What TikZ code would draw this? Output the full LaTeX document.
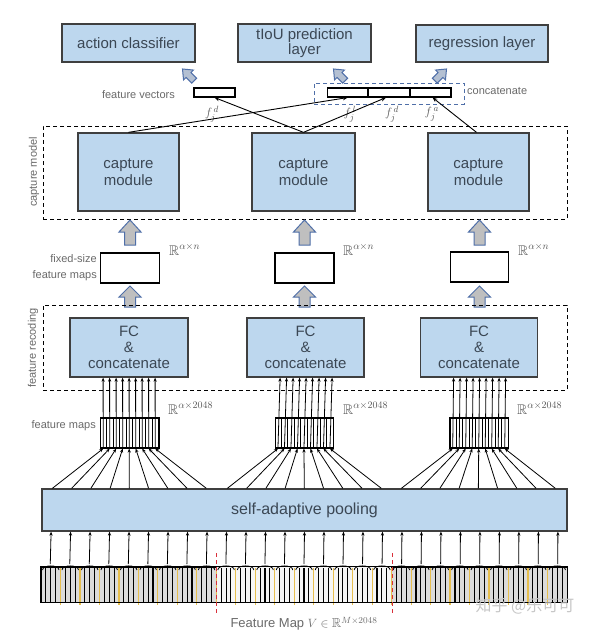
\documentclass[tikz,border=0pt]{standalone}
\usepackage{amsmath,amssymb}
\usepackage{fontspec}
\setmainfont{Liberation Sans}
\newfontfamily\cjk{Noto Sans CJK SC}
\usetikzlibrary{arrows.meta,calc}
\definecolor{boxblue}{HTML}{BDD7EE}
\definecolor{boxedge}{HTML}{3F3F3F}
\definecolor{boxtxt}{HTML}{3B4754}
\definecolor{lblgray}{HTML}{6A6A6A}
\definecolor{mgray}{HTML}{555555}
\definecolor{arrblue}{HTML}{4F6FA8}
\definecolor{arrgray}{HTML}{BFBFBF}
\definecolor{tiltfill}{HTML}{B4C0D2}
\definecolor{yel}{HTML}{E6BE4E}
\definecolor{redd}{HTML}{D9303A}
\newcommand\blockup[4]{%
  \draw[blockarrow] (#1,#2) -- ++(11,#3) -- ++(-5.5,0) -- ++(0,#4) -- ++(-11,0) -- ++(0,-#4) -- ++(-5.5,0) -- cycle;}
\begin{document}
\begin{tikzpicture}[x=1pt,y=-1pt,
  bluebox/.style={draw=boxedge, line width=1.3pt, fill=boxblue, text=boxtxt, align=center, inner sep=0pt, font=\fontsize{15}{17}\selectfont},
  whitebox/.style={draw=black, line width=1.1pt, fill=white, inner sep=0pt},
  dashbox/.style={draw=black, dash pattern=on 4pt off 3pt, line width=1pt, inner sep=0pt},
  lbl/.style={text=lblgray, font=\fontsize{11}{16}\selectfont, align=right, inner sep=0pt},
  mlbl/.style={text=mgray, font=\fontsize{14}{16}\selectfont, inner sep=0pt},
  flbl/.style={text=mgray, font=\fontsize{13}{15}\selectfont, inner sep=0pt},
  conn/.style={-{Stealth[length=5pt,width=4pt]}, line width=0.9pt},
  thin/.style={-{Stealth[length=4pt,width=3.2pt]}, line width=0.8pt},
  blockarrow/.style={draw=arrblue, fill=arrgray, line width=1pt, line join=miter},
  tilt/.pic={\draw[draw=arrblue, fill=tiltfill, line width=1pt] (-3.5,8) -- (-3.5,0) -- (-7,0) -- (0,-8.5) -- (7,0) -- (3.5,0) -- (3.5,8) -- cycle;}
]
\fill[white] (0,0) rectangle (595,634);
\useasboundingbox (0,0) rectangle (595,634);

% top boxes
\node[bluebox, minimum width=133, minimum height=38] (ac) at (128.5,43) {action classifier};
\node[bluebox, minimum width=133, minimum height=38] (tiou) at (304.5,43) {tIoU prediction\\[-2pt]layer};
\node[bluebox, minimum width=132, minimum height=37] (reg) at (482,43.5) {regression layer};

\pic[rotate=45] at (188.5,75) {tilt};
\pic[rotate=45] at (339.5,75) {tilt};
\pic[rotate=-45] at (440.5,75) {tilt};

% feature vectors
\node[draw=arrblue, dash pattern=on 4pt off 3pt, line width=1pt, minimum width=150, minimum height=21, inner sep=0] (catbox) at (389,93.5) {};
\node[whitebox, minimum width=41, minimum height=9] (fv) at (214.5,92.5) {};
\node[whitebox, minimum width=40.5, minimum height=9] (c1) at (347.75,92.5) {};
\node[whitebox, minimum width=42, minimum height=9] (c2) at (389,92.5) {};
\node[whitebox, minimum width=41, minimum height=9] (c3) at (430.5,92.5) {};
\node[lbl, anchor=east] (lfv) at (175,95) {feature vectors};
\node[lbl, anchor=west] (lcat) at (467,91) {concatenate};

\node[flbl] (f1) at (212,114) {$f_j^{\,d}$};
\node[flbl] (f2) at (350,114) {$f_j^{\,l}$};
\node[flbl] (f3) at (392,114) {$f_j^{\,d}$};
\node[flbl] (f4) at (432,114) {$f_j^{\,a}$};

% capture model
\node[dashbox, minimum width=524, minimum height=93] (capbox) at (305,172.5) {};
\node[lbl, rotate=90] (lcap) at (34,172) {capture model};
\node[bluebox, minimum width=101, minimum height=78] (cm1) at (128.5,172) {capture\\module};
\node[bluebox, minimum width=103, minimum height=78] (cm2) at (303.5,172) {capture\\module};
\node[bluebox, minimum width=101, minimum height=78] (cm3) at (478.5,172) {capture\\module};

\draw[conn] (cm1.north) -- (c1.south);
\draw[conn] (cm2.north) -- (fv.south);
\draw[conn] (cm2.north) -- ($(c2.south)+(-3,0)$);
\draw[conn] ($(cm3.north)+(-2,0)$) -- ($(c3.south)+(2,0)$);

% fixed-size
\node[whitebox, minimum width=59, minimum height=30] (fs1) at (130,268) {};
\node[whitebox, minimum width=59, minimum height=30] (fs2) at (304.5,268) {};
\node[whitebox, minimum width=58, minimum height=30] (fs3) at (479.5,267) {};
\node[lbl, anchor=east] (lfs) at (97,268) {fixed-size\\feature maps};
\node[mlbl, anchor=base west] (r1) at (169,255) {$\mathbb{R}^{\alpha\times n}$};
\node[mlbl, anchor=base west] (r2) at (343,255) {$\mathbb{R}^{\alpha\times n}$};
\node[mlbl, anchor=base west] (r3) at (518,255) {$\mathbb{R}^{\alpha\times n}$};

\blockup{130}{220}{12}{13}
\blockup{304.5}{220}{12}{13}
\blockup{479.5}{220}{12}{13}
\blockup{130}{286}{11}{10}
\blockup{304.5}{286}{11}{10}
\blockup{479.5}{286}{11}{10}

% feature recoding
\node[dashbox, minimum width=524, minimum height=85] (recbox) at (305,347.5) {};
\node[lbl, rotate=90] (lrec) at (33,348) {feature recoding};
\node[bluebox, minimum width=118, minimum height=59] (fc1) at (129,347.5) {FC\\[-1pt]\&\\[-1pt]concatenate};
\node[bluebox, minimum width=117, minimum height=59] (fc2) at (305.5,347.5) {FC\\[-1pt]\&\\[-1pt]concatenate};
\node[bluebox, minimum width=117, minimum height=59] (fc3) at (479,347.5) {FC\\[-1pt]\&\\[-1pt]concatenate};

% feature maps
\node[whitebox, minimum width=58.5, minimum height=30] (fm1) at (129.75,433) {};
\node[whitebox, minimum width=58.5, minimum height=30] (fm2) at (304.5,433) {};
\node[whitebox, minimum width=58.5, minimum height=30] (fm3) at (479.25,433) {};
\node[lbl, anchor=east] (lfm) at (96,426) {feature maps};
\node[mlbl, anchor=base west] (q1) at (168,414) {$\mathbb{R}^{\alpha\times 2048}$};
\node[mlbl, anchor=base west] (q2) at (343,414) {$\mathbb{R}^{\alpha\times 2048}$};
\node[mlbl, anchor=base west] (q3) at (517,414) {$\mathbb{R}^{\alpha\times 2048}$};

% pooling
\node[bluebox, minimum width=525, minimum height=42, font=\fontsize{16}{18}\selectfont] (pool) at (304.5,510) {self-adaptive pooling};

\foreach \g/\b in {1/53,2/228,3/402}{
  \foreach \j in {1,...,8}{
    \draw[line width=0.8pt] ($(fm\g.north west)+({6.5*\j},0)$) -- ++(0,30);
  }
  \foreach \i in {0,...,8}{
    \draw[thin] ($(pool.north west)+({\b-42+19.25*\i},0)$) -- ($(fm\g.south west)+({3.25+6.5*\i},0)$);
    \draw[thin] ($(fm\g.south west)+({3.25+6.5*\i},0)$) -- ($(fc\g.south west)+({30.5+3.25+6.5*\i},0)$);
  }
}

% feature map strip
\node[draw=black, line width=1pt, fill=gray!28, minimum width=526, minimum height=35, inner sep=0] (strip) at (304,584.5) {};
\fill[gray!7] ($(strip.north west)+(175.3,0.6)$) rectangle ($(strip.south west)+(350.6,-0.6)$);
\foreach \k in {0,...,26}{
  \pgfmathsetmacro\l{41+19.48*\k}
  \foreach \j in {1,2,3}{
    \draw[line width=1.1pt] ({\l+4.87*\j},568) -- ({\l+4.87*\j},602);
  }
  \ifnum\k>0 \draw[yel, line width=1.2pt] (\l,568) -- (\l,605); \fi
  \draw[line width=0.8pt] ({\l+1.5},570) .. controls ({\l+1.5},564.5) and ({\l+18},564.5) .. ({\l+18},570);
  \pgfmathsetmacro\t{(\k+0.5)/27}
  \draw[thin] ($(strip.north west)!\t!(strip.north east)+(0,-2.3)$) -- ($(pool.south west)!\t!(pool.south east)$);
}
\draw[line width=1pt] (strip.north west) rectangle (strip.south east);
\draw[redd, line width=1.3pt, dash pattern=on 4pt off 3pt] (216.3,553) -- (216.3,613);
\draw[redd, line width=1.3pt, dash pattern=on 4pt off 3pt] (392.2,553) -- (392.2,613);

\node[text=lblgray, font=\fontsize{13}{15}\selectfont, inner sep=0] (fmap) at (304,624) {Feature Map $V\in\mathbb{R}^{M\times 2048}$};
\node[text=black!22, font=\cjk\fontsize{16}{18}\selectfont, inner sep=0] (wm) at (525,606) {知乎 @乐可可};
\end{tikzpicture}
\end{document}
